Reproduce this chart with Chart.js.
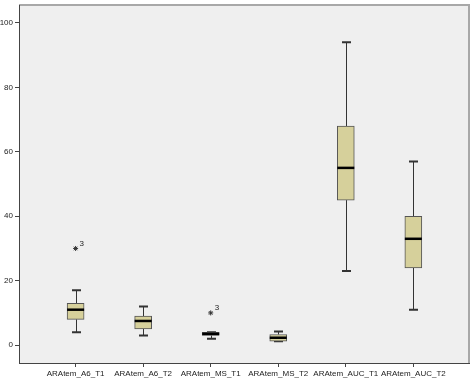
<!DOCTYPE html>
<html>
<head>
<meta charset="utf-8">
<script src="https://cdn.jsdelivr.net/npm/chart.js@4/dist/chart.umd.min.js"></script>
<style>
  html, body { margin: 0; padding: 0; background: #ffffff; }
  #wrap { width: 474px; height: 379px; }
</style>
</head>
<body>
<div id="wrap"><canvas id="c" width="474" height="379"></canvas></div>
<script>
const categories = ['ARAtem_A6_T1', 'ARAtem_A6_T2', 'ARAtem_MS_T1', 'ARAtem_MS_T2', 'ARAtem_AUC_T1', 'ARAtem_AUC_T2'];
const whiskerLow  = [4, 3, 2, 1.2, 23, 11];
const q1          = [8, 5, 3, 1.2, 45, 24];
const median      = [11, 7.5, 3.5, 2.3, 55, 33];
const q3          = [13, 9, 4, 3.3, 68, 40];
const whiskerHigh = [17, 12, 4, 4.2, 94, 57];
const outlierCat   = [0, 2];
const outlierVal   = [30, 10];
const outlierLabel = ['3', '3'];
const yTicks = [0, 20, 40, 60, 80, 100];

const FONT = 'Liberation Sans, Arial, sans-serif';

const boxPlugin = {
  id: 'boxParts',
  beforeDraw(chart) {
    const {ctx, chartArea: a} = chart;
    ctx.save();
    ctx.fillStyle = '#efefef';
    ctx.fillRect(a.left, a.top, a.right - a.left, a.bottom - a.top);
    ctx.strokeStyle = '#a8a8a8';
    ctx.lineWidth = 2;
    ctx.beginPath();
    ctx.moveTo(a.left, a.top);
    ctx.lineTo(a.right, a.top);
    ctx.lineTo(a.right, a.bottom);
    ctx.stroke();
    ctx.restore();
  },
  beforeDatasetsDraw(chart) {
    const {ctx} = chart;
    const xs = chart.scales.x, ys = chart.scales.y;
    ctx.save();
    ctx.strokeStyle = '#333333';
    categories.forEach((c, i) => {
      const x = Math.round(xs.getPixelForValue(i)) + 0.5;
      const yLo = ys.getPixelForValue(whiskerLow[i]);
      const yHi = ys.getPixelForValue(whiskerHigh[i]);
      const yQ1 = ys.getPixelForValue(q1[i]);
      const yQ3 = ys.getPixelForValue(q3[i]);
      ctx.lineWidth = 1;
      ctx.beginPath();
      ctx.moveTo(x, yQ3); ctx.lineTo(x, yHi);
      ctx.moveTo(x, yQ1); ctx.lineTo(x, yLo);
      ctx.stroke();
      ctx.lineWidth = 2;
      ctx.beginPath();
      ctx.moveTo(x - 4.5, yHi); ctx.lineTo(x + 4.5, yHi);
      ctx.moveTo(x - 4.5, yLo); ctx.lineTo(x + 4.5, yLo);
      ctx.stroke();
    });
    ctx.restore();
  },
  afterDatasetsDraw(chart) {
    const {ctx} = chart;
    const xs = chart.scales.x, ys = chart.scales.y;
    ctx.save();
    ctx.strokeStyle = '#000000';
    ctx.lineWidth = 2.5;
    categories.forEach((c, i) => {
      const x = xs.getPixelForValue(i);
      const y = ys.getPixelForValue(median[i]);
      ctx.beginPath();
      ctx.moveTo(x - 8.5, y); ctx.lineTo(x + 8.5, y);
      ctx.stroke();
    });
    ctx.fillStyle = '#222222';
    ctx.font = '8px ' + FONT;
    ctx.textAlign = 'left';
    ctx.textBaseline = 'bottom';
    outlierCat.forEach((ci, k) => {
      const x = xs.getPixelForValue(ci);
      const y = ys.getPixelForValue(outlierVal[k]);
      ctx.fillText(outlierLabel[k], x + 4, y - 1);
    });
    ctx.restore();
  }
};

new Chart(document.getElementById('c'), {
  type: 'bar',
  data: {
    datasets: [
      {
        type: 'bar',
        data: categories.map((c, i) => ({x: i, y: [q1[i], q3[i]]})),
        backgroundColor: '#d6d09b',
        borderColor: '#555555',
        borderWidth: 1,
        borderSkipped: false,
        barThickness: 17,
        order: 2
      },
      {
        type: 'scatter',
        data: outlierCat.map((ci, k) => ({x: ci, y: outlierVal[k]})),
        pointStyle: 'star',
        radius: 2.5,
        borderColor: '#333333',
        borderWidth: 1,
        backgroundColor: '#333333',
        order: 1
      }
    ]
  },
  options: {
    responsive: false,
    animation: false,
    layout: { padding: { top: 2, right: 2, left: 0, bottom: 0 } },
    plugins: { legend: { display: false }, tooltip: { enabled: false } },
    scales: {
      x: {
        type: 'linear',
        offset: false,
        min: -0.838,
        max: 5.824,
        afterBuildTicks: s => { s.ticks = categories.map((c, i) => ({value: i})); },
        afterFit: s => { s.height = 16; s.paddingLeft = 0; s.paddingRight = 0; },
        ticks: {
          autoSkip: false,
          maxRotation: 0,
          padding: 2,
          color: '#222222',
          font: { family: FONT, size: 8 },
          callback: (v) => categories[v] !== undefined ? categories[v] : ''
        },
        grid: { offset: false, drawOnChartArea: false, drawTicks: true, tickLength: 4, color: '#444444' },
        border: { color: '#444444', width: 1 }
      },
      y: {
        type: 'linear',
        min: -5.54,
        max: 105.54,
        afterBuildTicks: s => { s.ticks = yTicks.map(v => ({value: v})); },
        afterFit: s => { s.width = 19; s.paddingTop = 0; s.paddingBottom = 0; },
        ticks: {
          padding: 2,
          color: '#222222',
          font: { family: FONT, size: 8 }
        },
        grid: { drawOnChartArea: false, drawTicks: true, tickLength: 4, color: '#444444' },
        border: { color: '#444444', width: 1 }
      }
    }
  },
  plugins: [boxPlugin]
});
</script>
</body>
</html>
